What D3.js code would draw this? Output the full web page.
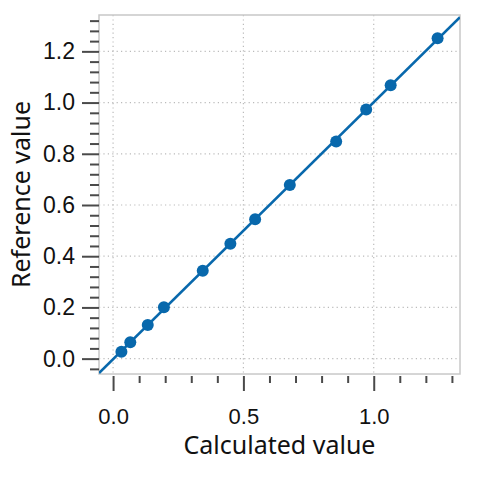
<!DOCTYPE html>
<html>
<head>
<meta charset="utf-8">
<script src="https://cdn.jsdelivr.net/npm/d3@7"></script>
<style>
  body { margin: 0; background: #fff; }
  svg { display: block; }
  .tick-label { font-family: "Liberation Sans", Arial, sans-serif; fill: #111; }
</style>
</head>
<body>
<svg id="chart"></svg>
<script>
// values
const calculated = [0.032, 0.066, 0.133, 0.195, 0.344, 0.450, 0.545, 0.678, 0.856, 0.971, 1.065, 1.245]
const reference  = [0.027, 0.064, 0.131, 0.201, 0.343, 0.449, 0.544, 0.678, 0.848, 0.973, 1.068, 1.251]

const xTicks = [0, 0.5, 1.0]
const yTicks = [0, 0.2, 0.4, 0.6, 0.8, 1.0, 1.2]
const xMinor = [0.1, 0.2, 0.3, 0.4, 0.6, 0.7, 0.8, 0.9, 1.1, 1.2, 1.3]
const yMinor = [-0.04, 0.04, 0.08, 0.12, 0.16, 0.24, 0.28, 0.32, 0.36, 0.44, 0.48, 0.52, 0.56,
                0.64, 0.68, 0.72, 0.76, 0.84, 0.88, 0.92, 0.96, 1.04, 1.08, 1.12, 1.16, 1.24, 1.28, 1.32]

const W = 480, H = 480
const plotL = 99, plotR = 460, plotT = 15, plotB = 374
const blue = "#0868ac"
const tickColor = "#4a4a4a"
const titleFont = "'Noto Sans', sans-serif"

const svg = d3.select("#chart").attr("width", W).attr("height", H)

const x = d3.scaleLinear().domain([-0.054, 1.331]).range([plotL, plotR])
const y = d3.scaleLinear().domain([-0.06, 1.342]).range([plotB, plotT])

// dotted grid
svg.append("g")
    .selectAll("line")
    .data(xTicks)
    .join("line")
    .attr("x1", d => x(d)).attr("x2", d => x(d))
    .attr("y1", plotT).attr("y2", plotB)
    .attr("stroke", "#bbb")
    .attr("stroke-width", 1.2)
    .attr("stroke-dasharray", "1.2,3.2")

svg.append("g")
    .selectAll("line")
    .data(yTicks)
    .join("line")
    .attr("x1", plotL).attr("x2", plotR)
    .attr("y1", d => y(d)).attr("y2", d => y(d))
    .attr("stroke", "#bbb")
    .attr("stroke-width", 1.2)
    .attr("stroke-dasharray", "1.2,3.2")

// frame
svg.append("rect")
    .attr("x", plotL).attr("y", plotT)
    .attr("width", plotR - plotL).attr("height", plotB - plotT)
    .attr("fill", "none")
    .attr("stroke", "#c8c8c8")
    .attr("stroke-width", 1.5)

// y axis: major ticks with labels, minor ticks without
const yAxis = svg.append("g").attr("transform", `translate(${plotL},0)`)
yAxis.call(d3.axisLeft(y).tickValues(yTicks).tickSize(17).tickPadding(7).tickFormat(d3.format(".1f")))
yAxis.append("g").call(d3.axisLeft(y).tickValues(yMinor).tickSize(9).tickFormat(""))
yAxis.selectAll(".domain").remove()
yAxis.selectAll("line").attr("stroke", tickColor).attr("stroke-width", 2)
yAxis.selectAll("text").attr("class", "tick-label").style("font-size", "23px")

// x axis
const xAxis = svg.append("g").attr("transform", `translate(0,${plotB + 2})`)
xAxis.call(d3.axisBottom(x).tickValues(xTicks).tickSize(15).tickPadding(17).tickFormat(d3.format(".1f")))
xAxis.append("g").call(d3.axisBottom(x).tickValues(xMinor).tickSize(7).tickFormat(""))
xAxis.selectAll(".domain").remove()
xAxis.selectAll("line").attr("stroke", tickColor).attr("stroke-width", 2)
xAxis.selectAll("text").attr("class", "tick-label").style("font-size", "22px")

// axis titles
svg.append("text")
    .text("Calculated value")
    .attr("x", (plotL + plotR) / 2)
    .attr("y", 454)
    .attr("text-anchor", "middle")
    .style("font-family", titleFont)
    .style("font-size", "25px")
    .style("fill", "#111")

svg.append("text")
    .text("Reference value")
    .attr("transform", `translate(30,${(plotT + plotB) / 2}) rotate(-90)`)
    .attr("text-anchor", "middle")
    .style("font-family", titleFont)
    .style("font-size", "25px")
    .style("fill", "#111")

// least squares fit through the points
const mx = d3.mean(calculated), my = d3.mean(reference)
const slope = d3.sum(calculated, (c, i) => (c - mx) * (reference[i] - my)) /
              d3.sum(calculated, c => (c - mx) * (c - mx))
const icpt = my - slope * mx

svg.append("clipPath").attr("id", "plot-clip")
    .append("rect")
    .attr("x", plotL).attr("y", plotT)
    .attr("width", plotR - plotL).attr("height", plotB - plotT)

const fitX = x.domain()
svg.append("line")
    .attr("clip-path", "url(#plot-clip)")
    .attr("x1", x(fitX[0])).attr("y1", y(slope * fitX[0] + icpt))
    .attr("x2", x(fitX[1])).attr("y2", y(slope * fitX[1] + icpt))
    .attr("stroke", blue)
    .attr("stroke-width", 2.6)

// points
svg.append("g")
    .selectAll("circle")
    .data(calculated)
    .join("circle")
    .attr("cx", d => x(d))
    .attr("cy", (d, i) => y(reference[i]))
    .attr("r", 6)
    .attr("fill", blue)
</script>
</body>
</html>
